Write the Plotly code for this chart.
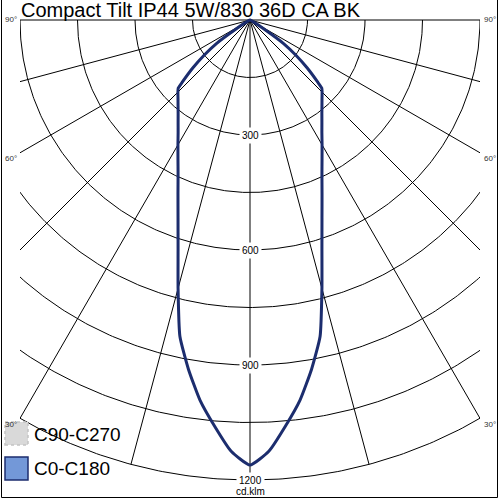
import numpy as np
import plotly.graph_objects as go

# ---------------- data ----------------
TITLE = "Compact Tilt IP44 5W/830 36D CA BK"
UNIT = "cd.klm"
GAMMA = [0, 2.5, 5, 7.5, 10, 12.5, 15, 17.5, 20, 22.5, 25, 27.5, 30, 32.5, 35,
         37.5, 40, 42.5, 45, 46.5, 47.5, 50, 52.5, 55, 57.5, 60, 65, 70, 75, 80, 85, 90]
C0_C180 = [1161, 1126, 1063, 1000, 925, 845, 725, 624, 549, 491, 444, 407, 376, 349, 327,
           308, 292, 278, 266, 258, 239, 195, 151, 107, 40, 15, 4, 1, 0, 0, 0, 0]
RINGS = [150, 300, 450, 600, 750, 900, 1050, 1200]
RING_LABELS = [300, 600, 900, 1200]
SPOKES = [-90, -75, -60, -45, -30, -15, 0, 15, 30, 45, 60, 75, 90]
ANGLE_LABELS = ["90°", "60°", "30°"]
LEGEND = ["C90-C270", "C0-C180"]

# -------------- helpers ---------------
W = H = 500
L, R, T, B = 20, 20, 18, 14
PW, PH = W - L - R, H - T - B
SCALE = PW / 1200.0            # px per cd
Y_TOP = (20 - T) / SCALE
Y_BOT = -1200 - (H - B - 480) / SCALE
FONT = "Arial, Liberation Sans, sans-serif"


def px_x(p):
    return (p - L) / PW


def px_y(p):
    return (H - B - p) / PH


fig = go.Figure()

# grid rings
t = np.radians(np.linspace(-90, 90, 361))
for r in RINGS:
    fig.add_trace(go.Scatter(x=r * np.sin(t), y=-r * np.cos(t), mode="lines",
                             line=dict(color="black", width=1), hoverinfo="skip",
                             showlegend=False))
# spokes
rmax = max(RINGS)
for a in SPOKES:
    ar = np.radians(a)
    fig.add_trace(go.Scatter(x=[0, rmax * np.sin(ar)], y=[0, -rmax * np.cos(ar)],
                             mode="lines", line=dict(color="black", width=1),
                             hoverinfo="skip", showlegend=False))

# luminous intensity curve (C0 right, C180 left, symmetric)
g = np.radians(np.array(GAMMA, dtype=float))
I = np.array(C0_C180, dtype=float)
xs = np.concatenate([-(I * np.sin(g))[::-1], (I * np.sin(g))[1:]])
ys = np.concatenate([-(I * np.cos(g))[::-1], -(I * np.cos(g))[1:]])
fig.add_trace(go.Scatter(x=xs, y=ys, mode="lines",
                         line=dict(color="#1c2d6e", width=3, shape="spline", smoothing=0.5),
                         showlegend=False, hoverinfo="skip"))

ann = []
for v in RING_LABELS:
    ann.append(dict(x=0, y=-v, xref="x", yref="y", text=f"{v}", showarrow=False,
                    font=dict(family=FONT, size=10, color="black"),
                    bgcolor="white", borderpad=2, xanchor="center", yanchor="middle"))
ann.append(dict(x=px_x(250), y=px_y(491), xref="paper", yref="paper", text=UNIT,
                showarrow=False, font=dict(family=FONT, size=10, color="black"),
                xanchor="center", yanchor="middle"))
ann.append(dict(x=px_x(19), y=px_y(10), xref="paper", yref="paper", text=TITLE,
                showarrow=False, font=dict(family=FONT, size=20, color="black"),
                xanchor="left", yanchor="middle"))
for lab, py in zip(ANGLE_LABELS, [20, 158, 424]):
    ann.append(dict(x=px_x(3), y=px_y(py), xref="paper", yref="paper", text=lab,
                    showarrow=False, font=dict(family=FONT, size=8, color="#333"),
                    xanchor="left", yanchor="middle"))
    ann.append(dict(x=px_x(482), y=px_y(py), xref="paper", yref="paper", text=lab,
                    showarrow=False, font=dict(family=FONT, size=8, color="#333"),
                    xanchor="left", yanchor="middle"))
for lab, py in zip(LEGEND, [434, 468]):
    ann.append(dict(x=px_x(32), y=px_y(py), xref="paper", yref="paper", text=lab,
                    showarrow=False, font=dict(family=FONT, size=19, color="black"),
                    xanchor="left", yanchor="middle"))

shapes = [
    dict(type="rect", xref="paper", yref="paper", x0=px_x(5), x1=px_x(28), y0=px_y(445), y1=px_y(422),
         fillcolor="#d9d9d9", line=dict(color="#c4c4c4", width=1.5, dash="dot")),
    dict(type="rect", xref="paper", yref="paper", x0=px_x(5), x1=px_x(28), y0=px_y(480), y1=px_y(457),
         fillcolor="#7398d8", line=dict(color="#1c2d6e", width=1.5)),
    dict(type="line", xref="paper", yref="paper", x0=px_x(1.5), x1=px_x(1.5), y0=px_y(0), y1=px_y(497.5),
         line=dict(color="black", width=1)),
    dict(type="line", xref="paper", yref="paper", x0=px_x(497.5), x1=px_x(497.5), y0=px_y(0), y1=px_y(497.5),
         line=dict(color="black", width=1)),
    dict(type="line", xref="paper", yref="paper", x0=px_x(1.5), x1=px_x(497.5), y0=px_y(497.5), y1=px_y(497.5),
         line=dict(color="black", width=1)),
]

fig.update_layout(
    width=W, height=H, autosize=False,
    margin=dict(l=L, r=R, t=T, b=B, pad=0),
    paper_bgcolor="white", plot_bgcolor="white",
    xaxis=dict(range=[-600, 600], visible=False, fixedrange=True),
    yaxis=dict(range=[Y_BOT, Y_TOP], visible=False, fixedrange=True),
    annotations=ann, shapes=shapes, showlegend=False,
)

fig.write_html("out.html", config={"displayModeBar": False},
               post_script="document.body.style.margin='0';document.body.style.overflow='hidden';")
